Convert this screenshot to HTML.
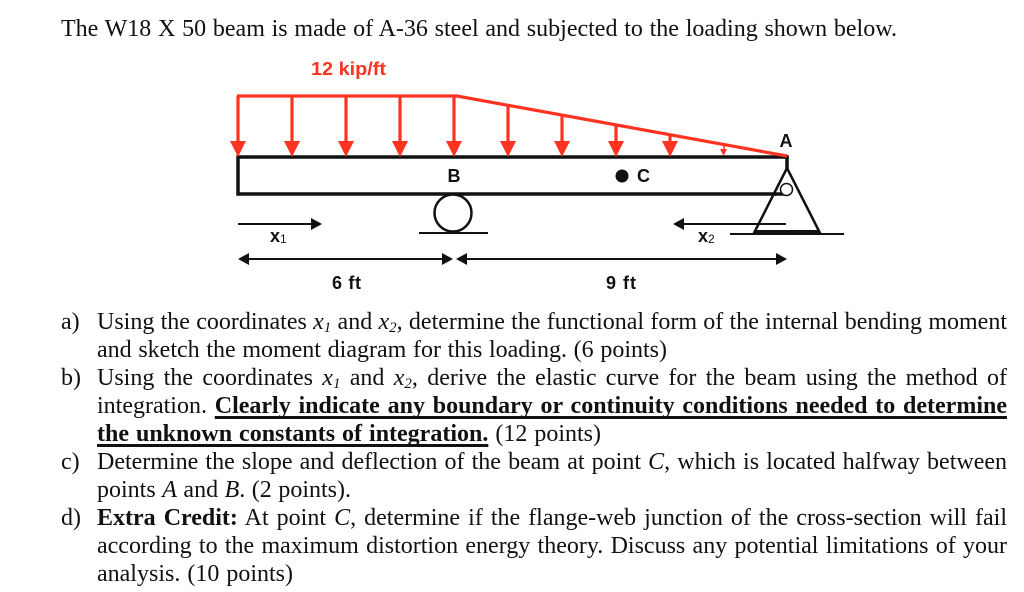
<!DOCTYPE html>
<html><head><meta charset="utf-8">
<style>
html,body{margin:0;padding:0;background:#fff}
#p{position:relative;width:1024px;height:592px;overflow:hidden;background:#fff}
svg{position:absolute;left:0;top:0}
.l{position:absolute;left:97px;width:910px;height:28px;font:24px/28px "Liberation Serif",serif;color:#111;white-space:normal;text-align:justify;text-align-last:justify}
.m{position:absolute;left:61px;font:24px/28px "Liberation Serif",serif;color:#111}
sub{font-size:15px;line-height:0;vertical-align:-3px}
u{text-decoration-thickness:2.500px;text-underline-offset:3px;text-decoration-skip-ink:none}
</style></head><body><div id="p">
<svg width="1024" height="592" viewBox="0 0 1024 592">
<g fill="none" stroke="#111">
<rect x="238" y="157" width="549" height="37" stroke-width="3.500" fill="#fff"/>
<rect x="773" y="159" width="16" height="33" fill="#fff" stroke="none"/>
<path d="M787 157V170" stroke-width="3.500"/>
<path d="M773 194H776" stroke-width="3.500"/>
<circle cx="453" cy="213" r="18.500" stroke-width="2.500" fill="#fff"/>
<path d="M419 233H488" stroke-width="2"/>
<path d="M787 168L754 233H820Z" stroke-width="2.500" fill="none"/>
<circle cx="786.500" cy="189.500" r="6" stroke-width="1.500" fill="#fff"/>
<path d="M730 234H844" stroke-width="2"/>
<path d="M754 232H820" stroke-width="4"/>
<path d="M238 224H312" stroke-width="2"/>
<path d="M786 224H682" stroke-width="2"/>
<path d="M246 259H444M464 259H778" stroke-width="2"/>
</g>
<g fill="#111">
<path d="M322 224L311 218V230Z"/>
<path d="M673 224L684 218V230Z"/>
<path d="M238 259L249 253V265Z"/>
<path d="M453 259L442 253V265Z"/>
<path d="M456 259L467 253V265Z"/>
<path d="M787 259L776 253V265Z"/>
<circle cx="622" cy="176" r="6.500"/>
</g>
<g fill="none" stroke="#ff3322" stroke-width="3.200">
<path d="M237 96H457L787 156"/>
<path d="M238 96V143M292 96V143M346 96V143M400 96V143M454 96V143M508 105V143M562 114V143M616 124V143M670 134V143"/>
<path d="M724 145V150" stroke-width="1.500"/>
</g>
<g fill="#ff3322">
<path d="M238 157L230 141H246Z"/>
<path d="M292 157L284 141H300Z"/>
<path d="M346 157L338 141H354Z"/>
<path d="M400 157L392 141H408Z"/>
<path d="M454 157L446 141H462Z"/>
<path d="M508 157L500 141H516Z"/>
<path d="M562 157L554 141H570Z"/>
<path d="M616 157L608 141H624Z"/>
<path d="M670 157L662 141H678Z"/>
<path d="M723.500 156L720 149H727Z"/>
</g>
<g font-family="'Liberation Sans',sans-serif" font-weight="700" font-size="18" fill="#111">
<text x="311" y="75" fill="#ff3322" font-size="18" textLength="75" lengthAdjust="spacingAndGlyphs">12 kip/ft</text>
<text x="786" y="147" text-anchor="middle">A</text>
<text x="454" y="182" text-anchor="middle">B</text>
<text x="637" y="182">C</text>
<text x="270" y="242">x<tspan font-size="12" dy="1" font-weight="400">1</tspan></text>
<text x="698" y="242">x<tspan font-size="12" dy="1" font-weight="400">2</tspan></text>
<text x="332" y="289" textLength="29">6 ft</text>
<text x="606" y="289" textLength="30">9 ft</text>
</g>
</svg>
<div class="l" style="left:61px;width:836px;top:15px">The W18 X 50 beam is made of A-36 steel and subjected to the loading shown below.</div>
<div class="m" style="top:308px">a)</div>
<div class="m" style="top:364px">b)</div>
<div class="m" style="top:448px">c)</div>
<div class="m" style="top:504px">d)</div>
<div class="l" style="top:308px">Using the coordinates <i>x<sub>1</sub></i> and <i>x<sub>2</sub></i>, determine the functional form of the internal bending moment</div>
<div class="l" style="top:336px;width:570px">and sketch the moment diagram for this loading. (6 points)</div>
<div class="l" style="top:364px">Using the coordinates <i>x<sub>1</sub></i> and <i>x<sub>2</sub></i>, derive the elastic curve for the beam using the method of</div>
<div class="l" style="top:392px">integration. <b><u>Clearly indicate any boundary or continuity conditions needed to determine</u></b></div>
<div class="l" style="top:420px;width:504px"><b><u>the unknown constants of integration.</u></b> (12 points)</div>
<div class="l" style="top:448px">Determine the slope and deflection of the beam at point <i>C</i>, which is located halfway between</div>
<div class="l" style="top:476px;width:254px">points <i>A</i> and <i>B</i>. (2 points).</div>
<div class="l" style="top:504px"><b>Extra Credit:</b> At point <i>C</i>, determine if the flange-web junction of the cross-section will fail</div>
<div class="l" style="top:532px">according to the maximum distortion energy theory. Discuss any potential limitations of your</div>
<div class="l" style="top:560px;width:196px">analysis. (10 points)</div>
</div></body></html>
